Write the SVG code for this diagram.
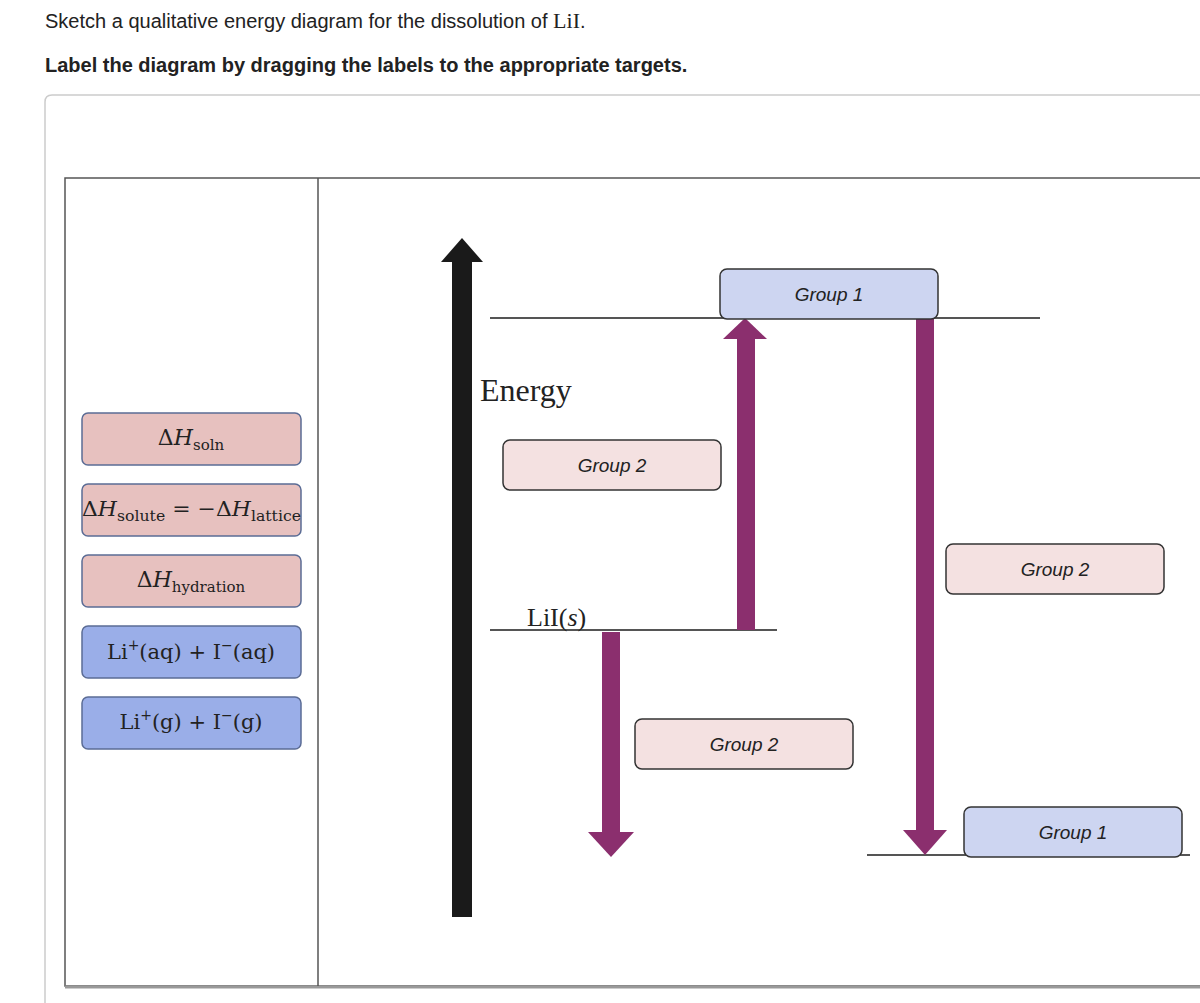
<svg xmlns="http://www.w3.org/2000/svg" width="1200" height="1003" viewBox="0 0 1200 1003">
<style>
.s{font-family:"Liberation Sans",Arial,sans-serif;fill:#222}
.m{font-family:"DejaVu Serif","Liberation Serif",serif;fill:#222}
.lbl{stroke:#5b6c95;stroke-width:1.5}
.pk{fill:#e7c1bf}.bl{fill:#9aaee8}
.tg{stroke:#333;stroke-width:1.5}
.g1{fill:#cdd5f1}.g2{fill:#f4e1e1}
.gt{font-family:"Liberation Sans",Arial,sans-serif;font-style:italic;font-size:19px;fill:#222}
.lv{stroke:#555;stroke-width:2}
.pu{fill:#8b2f6e}
</style>
<rect width="1200" height="1003" fill="#fff"/>
<text class="s" x="45" y="28" font-size="20">Sketch a qualitative energy diagram for the dissolution of <tspan font-family="Liberation Serif,serif" font-size="22">LiI</tspan>.</text>
<text class="s" x="45" y="72" font-size="20" font-weight="bold">Label the diagram by dragging the labels to the appropriate targets.</text>
<path d="M1200 95 H52 Q45 95 45 102 V1003" fill="none" stroke="#ccc" stroke-width="1.5"/>
<rect x="65" y="178" width="1140" height="808" fill="none" stroke="#555" stroke-width="1.5"/>
<line x1="65" y1="987" x2="1200" y2="987" stroke="#999" stroke-width="3"/>
<line x1="318" y1="178" x2="318" y2="986" stroke="#555" stroke-width="1.5"/>
<g id="labels">
<g id="l1"><rect class="lbl pk" x="82" y="413" width="219" height="52" rx="6"/><text class="m" x="191" y="445" font-size="22" text-anchor="middle">Δ<tspan font-style="italic">H</tspan><tspan font-size="15" dy="5">soln</tspan></text></g>
<g id="l2"><rect class="lbl pk" x="82" y="484" width="219" height="52" rx="6"/><text class="m" x="82" y="516" font-size="21" textLength="219" lengthAdjust="spacingAndGlyphs">Δ<tspan font-style="italic">H</tspan><tspan font-size="15" dy="5">solute</tspan><tspan dy="-5"> = −Δ</tspan><tspan font-style="italic">H</tspan><tspan font-size="15" dy="5">lattice</tspan></text></g>
<g id="l3"><rect class="lbl pk" x="82" y="555" width="219" height="52" rx="6"/><text class="m" x="191" y="587" font-size="22" text-anchor="middle">Δ<tspan font-style="italic">H</tspan><tspan font-size="15" dy="5">hydration</tspan></text></g>
<g id="l4"><rect class="lbl bl" x="82" y="626" width="219" height="52" rx="6"/><text class="m" x="191" y="659" font-size="21" text-anchor="middle">Li<tspan font-size="14" dy="-9">+</tspan><tspan dy="9">(aq) + I</tspan><tspan font-size="14" dy="-9">−</tspan><tspan dy="9">(aq)</tspan></text></g>
<g id="l5"><rect class="lbl bl" x="82" y="697" width="219" height="52" rx="6"/><text class="m" x="191" y="729" font-size="21" text-anchor="middle">Li<tspan font-size="14" dy="-9">+</tspan><tspan dy="9">(g) + I</tspan><tspan font-size="14" dy="-9">−</tspan><tspan dy="9">(g)</tspan></text></g>
</g>
<g id="connectors">
<rect x="452" y="260" width="20" height="657" fill="#1a1a1a"/>
<polygon points="441,262 483,262 462,238" fill="#1a1a1a"/>
<line class="lv" x1="490" y1="318" x2="1040" y2="318"/>
<line class="lv" x1="490" y1="630" x2="777" y2="630"/>
<line class="lv" x1="867" y1="855" x2="1190" y2="855"/>
<rect class="pu" x="737" y="336" width="18" height="294"/>
<polygon class="pu" points="723,339 767,339 745,318"/>
<rect class="pu" x="602" y="632" width="18" height="202"/>
<polygon class="pu" points="588,832 634,832 611,857"/>
<rect class="pu" x="916" y="318" width="18" height="514"/>
<polygon class="pu" points="903,830 947,830 925,855"/>
</g>
<text x="480" y="401" font-family="Liberation Serif,serif" font-size="32" fill="#222">Energy</text>
<text x="527" y="626" font-family="Liberation Serif,serif" font-size="26" fill="#222">LiI(<tspan font-style="italic">s</tspan>)</text>
<g id="t1"><rect class="tg g1" x="720" y="269" width="218" height="50" rx="7"/><text class="gt" x="829" y="301" text-anchor="middle">Group 1</text></g>
<g id="t2"><rect class="tg g2" x="503" y="440" width="218" height="50" rx="7"/><text class="gt" x="612" y="472" text-anchor="middle">Group 2</text></g>
<g id="t3"><rect class="tg g2" x="946" y="544" width="218" height="50" rx="7"/><text class="gt" x="1055" y="576" text-anchor="middle">Group 2</text></g>
<g id="t4"><rect class="tg g2" x="635" y="719" width="218" height="50" rx="7"/><text class="gt" x="744" y="751" text-anchor="middle">Group 2</text></g>
<g id="t5"><rect class="tg g1" x="964" y="807" width="218" height="50" rx="7"/><text class="gt" x="1073" y="839" text-anchor="middle">Group 1</text></g>
</svg>
